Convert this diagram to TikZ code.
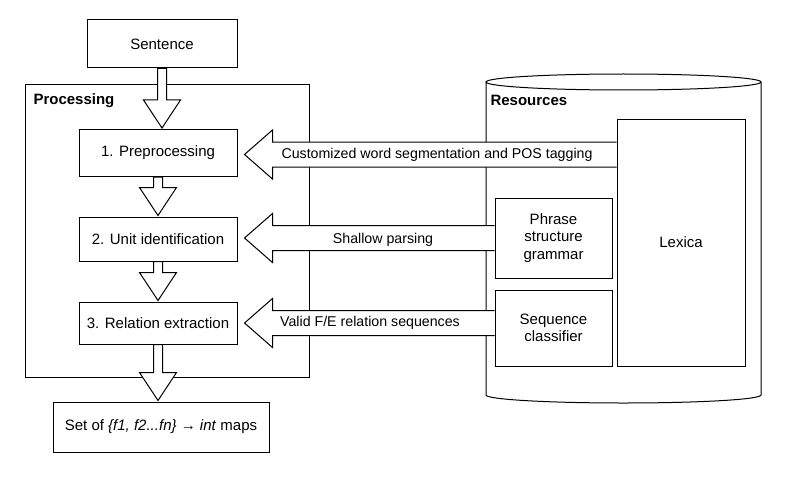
\documentclass[tikz,border=0pt]{standalone}
\usepackage{fontspec}
\setmainfont{Liberation Sans}
\usetikzlibrary{calc}
\newcommand\fatdown[2]{%
  \draw[fatarr] let \p1=(#1.south), \p2=(#2.north) in
    (\x1-4.5pt,\y1) -- (\x1-4.5pt,\y2+29pt) -- (\x1-18.5pt,\y2+29pt) -- (\x1,\y2+1pt)
    -- (\x1+18.5pt,\y2+29pt) -- (\x1+4.5pt,\y2+29pt) -- (\x1+4.5pt,\y1) -- cycle;}
\newcommand\fatleft[3]{%
  \draw[fatarr] let \p1=(#1.east), \p2=(#2.west) in
    (\x2,\y1+#3pt+12.5pt) -- (\x1+35pt,\y1+#3pt+12.5pt) -- (\x1+35pt,\y1+#3pt+24.5pt)
    -- (\x1+7pt,\y1+#3pt) -- (\x1+35pt,\y1+#3pt-24.5pt) -- (\x1+35pt,\y1+#3pt-12.5pt)
    -- (\x2,\y1+#3pt-12.5pt);}
\begin{document}
\begin{tikzpicture}[x=1pt,y=-1pt,
  font=\fontsize{15}{17.5}\selectfont, line width=1pt,
  box/.style={draw, fill=white, inner sep=0pt, align=center},
  fatarr/.style={draw, fill=white, line join=miter},
  arrlbl/.style={inner sep=0pt, font=\fontsize{14.2}{17}\selectfont},
  lbl/.style={inner sep=0pt, font=\fontsize{15}{17.5}\selectfont\bfseries, anchor=west}]
\useasboundingbox[fill=white] (0,0) rectangle (791,492);

% Processing frame
\node[draw, inner sep=0pt, minimum width=284pt, minimum height=292pt] (proc) at (167,231) {};
\node[lbl] (proclbl) at (33,101) {Processing};

% Cylinder (Resources)
\draw (623.5,82) ellipse [x radius=137.5, y radius=8];
\draw (486,82) -- (486,395) arc[start angle=180, end angle=0, x radius=137.5, y radius=8] -- (761,82);
\node[lbl] (reslbl) at (490,100) {Resources};

% Boxes
\node[box, minimum width=150pt, minimum height=48pt] (sent) at (162,44) {Sentence};
\node[box, minimum width=158pt, minimum height=47pt] (pre) at (158,153) {1. Preprocessing};
\node[box, minimum width=158pt, minimum height=44pt] (unit) at (158,239) {2. Unit identification};
\node[box, minimum width=158pt, minimum height=42pt] (rel) at (158,323) {3. Relation extraction};
\node[box, minimum width=216pt, minimum height=50pt] (set) at (161,427)
  {Set of \textit{\{f1, f2...fn\}}~→~\textit{int} maps};

\node[box, minimum width=128pt, minimum height=247pt] (lex) at (681,242.5) {Lexica};
\node[box, minimum width=117pt, minimum height=80pt] (psg) at (553.5,238) {Phrase\\structure\\grammar};
\node[box, minimum width=117pt, minimum height=76pt] (seq) at (553.5,328) {Sequence\\classifier};

% Down arrows
\fatdown{sent}{pre}
\fatdown{pre}{unit}
\fatdown{unit}{rel}
\fatdown{rel}{set}

% Left arrows
\fatleft{pre}{lex}{-1.5}
\fatleft{unit}{psg}{1}
\fatleft{rel}{seq}{0}

\node[arrlbl] (t1) at (437,155) {Customized word segmentation and POS tagging};
\node[arrlbl] (t2) at (383,240) {Shallow parsing};
\node[arrlbl] (t3) at (370,323) {Valid F/E relation sequences};
\end{tikzpicture}
\end{document}
